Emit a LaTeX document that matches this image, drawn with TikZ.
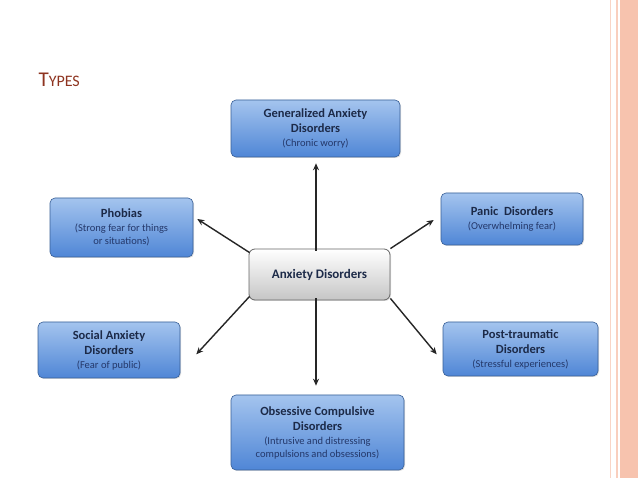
\documentclass[tikz,border=0pt]{standalone}
\usepackage{fontspec}
\setmainfont{Carlito}
\usetikzlibrary{arrows.meta,shadows}
\definecolor{bluetop}{HTML}{A4C4EE}
\definecolor{bluebot}{HTML}{4F86D6}
\definecolor{navy}{HTML}{1C2A48}
\definecolor{subc}{HTML}{24386A}
\definecolor{salmon}{HTML}{F7C3AE}
\definecolor{titlec}{HTML}{8E3420}
\tikzset{
  bluebox/.style={draw=bluebot!70!black, line width=0.6pt, rounded corners=5pt, top color=bluetop, bottom color=bluebot, align=center, text=navy, font=\bfseries\fontsize{12.5}{15}\selectfont, drop shadow={opacity=0.25,shadow xshift=1pt,shadow yshift=-1pt}},
  greybox/.style={draw=gray!80!black, line width=0.8pt, rounded corners=6pt, top color=white, bottom color=gray!45, align=center, text=navy, font=\bfseries\fontsize{13}{15}\selectfont, drop shadow={opacity=0.25,shadow xshift=1pt,shadow yshift=-1pt}},
  conn/.style={-{Stealth[length=7pt,width=6pt]}, line width=1.4pt, draw=black!85},
}
\newcommand{\subt}[1]{{\mdseries\fontsize{10.5}{12}\selectfont\color{subc}#1}}
\begin{document}
\begin{tikzpicture}[x=1pt,y=-1pt]
\useasboundingbox (0,0) rectangle (638,478);
\fill[white] (0,0) rectangle (638,478);
\fill[salmon] (620,0) rectangle (638,478);
\fill[salmon!80] (616,0) rectangle (618,478);
\fill[salmon!70] (610,0) rectangle (611,478);
\node[anchor=west, text=titlec, font=\fontsize{21}{24}\selectfont] (title) at (35,80) {T{\fontsize{16}{18}\selectfont YPES}};
\node[greybox, minimum width=141pt, minimum height=51pt] (c) at (319.5,274.5) {Anxiety Disorders};
\node[bluebox, minimum width=169pt, minimum height=57pt] (gad) at (315.5,128.5) {Generalized Anxiety\\Disorders\\[-1pt]\subt{(Chronic worry)}};
\node[bluebox, minimum width=143pt, minimum height=59pt] (pho) at (121.5,227.5) {Phobias\\[-1pt]\subt{(Strong fear for things}\\[-2pt]\subt{or situations)}};
\node[bluebox, minimum width=142pt, minimum height=52pt] (pan) at (512,219) {Panic\ \ Disorders\\[-1pt]\subt{(Overwhelming fear)}};
\node[bluebox, minimum width=142pt, minimum height=56pt] (soc) at (109,350) {Social Anxiety\\Disorders\\[-1pt]\subt{(Fear of public)}};
\node[bluebox, minimum width=155pt, minimum height=54pt] (pts) at (520.5,349) {Post-traumatic\\Disorders\\[-1pt]\subt{(Stressful experiences)}};
\node[bluebox, minimum width=173pt, minimum height=75pt] (ocd) at (317.5,432.5) {Obsessive Compulsive\\Disorders\\[-1pt]\subt{(Intrusive and distressing}\\[-2pt]\subt{compulsions and obsessions)}};
\draw[conn] ([xshift=-3.5pt,yshift=-2pt]c.north) -- ([xshift=0.5pt,yshift=-6pt]gad.south);
\draw[conn] ([xshift=-3.5pt,yshift=2pt]c.south) -- ([xshift=-1.5pt,yshift=9pt]ocd.north);
\draw[conn] ([shift={(1,4)}]c.north west) -- ([shift={(4,-8.5)}]pho.east);
\draw[conn] ([shift={(0,0)}]c.north east) -- ([shift={(-7,1)}]pan.west);
\draw[conn] ([shift={(1,-4)}]c.south west) -- ([shift={(16,-24)}]soc.south east);
\draw[conn] ([shift={(0,-2)}]c.south east) -- ([shift={(-6,-22)}]pts.south west);
\end{tikzpicture}
\end{document}
